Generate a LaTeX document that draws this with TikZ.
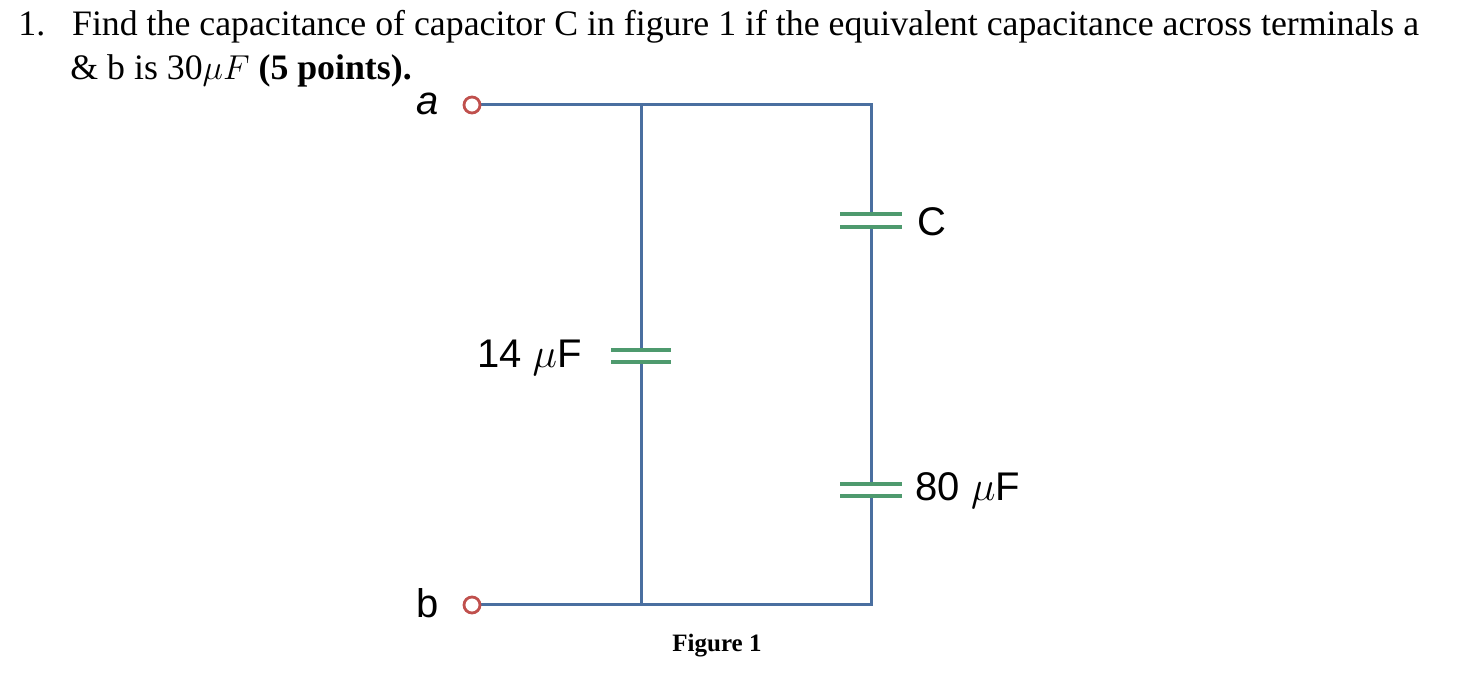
\documentclass[tikz,border=0pt]{standalone}
\usepackage{fontspec}
\setmainfont{Liberation Serif}
\newfontfamily\circfont{Liberation Sans}
\definecolor{wire}{HTML}{4A6FA0}
\definecolor{plate}{HTML}{4E9A6E}
\definecolor{term}{HTML}{C0504D}
\begin{document}
\begin{tikzpicture}[x=0.5pt,y=-0.5pt,
  wirestyle/.style={draw=wire,line width=1.5pt},
  platestyle/.style={draw=plate,line width=1.6pt},
  termstyle/.style={draw=term,line width=1.4pt,fill=white},
  lbl/.style={font=\circfont\fontsize{20}{23}\selectfont,inner sep=0pt}]
\useasboundingbox (0,0) rectangle (1464,688);
\node[anchor=base west,inner sep=0pt,font=\fontsize{17.9}{20}\selectfont] (t1) at (18,36) {1.\hspace{0.75em}Find the capacitance of capacitor C in figure 1 if the equivalent capacitance across terminals a};
\node[anchor=base west,inner sep=0pt,font=\fontsize{17.9}{20}\selectfont] (t2) at (70,80) {\& b is 30$\mu F$ \textbf{(5 points).}};
\coordinate (A) at (472,105);
\coordinate (B) at (472,605);
\coordinate (TM) at (641,105);
\coordinate (TR) at (871,105);
\coordinate (BM) at (641,605);
\coordinate (BR) at (871,605);
\coordinate (c1a) at (641,350); \coordinate (c1b) at (641,362);
\coordinate (c2a) at (871,214); \coordinate (c2b) at (871,227);
\coordinate (c3a) at (871,484); \coordinate (c3b) at (871,496);
\draw[wirestyle] (A) -- (TR) -- (c2a);
\draw[wirestyle] (c2b) -- (c3a);
\draw[wirestyle] (c3b) -- (BR) -- (B);
\draw[wirestyle] (TM) -- (c1a);
\draw[wirestyle] (c1b) -- (BM);
\draw[platestyle] (c1a) ++(-30,0) -- ++(60,0);
\draw[platestyle] (c1b) ++(-30,0) -- ++(60,0);
\draw[platestyle] (c2a) ++(-31,0) -- ++(62,0);
\draw[platestyle] (c2b) ++(-31,0) -- ++(62,0);
\draw[platestyle] (c3a) ++(-31,0) -- ++(62,0);
\draw[platestyle] (c3b) ++(-31,0) -- ++(62,0);
\node[termstyle,circle,minimum size=8pt,inner sep=0pt] (ta) at (A) {};
\node[termstyle,circle,minimum size=8pt,inner sep=0pt] (tb) at (B) {};
\node[lbl] (la) at (428,104) {\itshape a};
\node[lbl] (lb) at (428,603) {b};
\node[lbl,anchor=west] (lC) at (917,222) {C};
\node[lbl,anchor=east] (l14) at (582,358) {14 $\mu$F};
\node[lbl,anchor=west] (l80) at (915,491) {80 $\mu$F};
\node[anchor=base,inner sep=0pt,font=\bfseries\fontsize{12.5}{15}\selectfont] (fig) at (717,652) {Figure 1};
\end{tikzpicture}
\end{document}
